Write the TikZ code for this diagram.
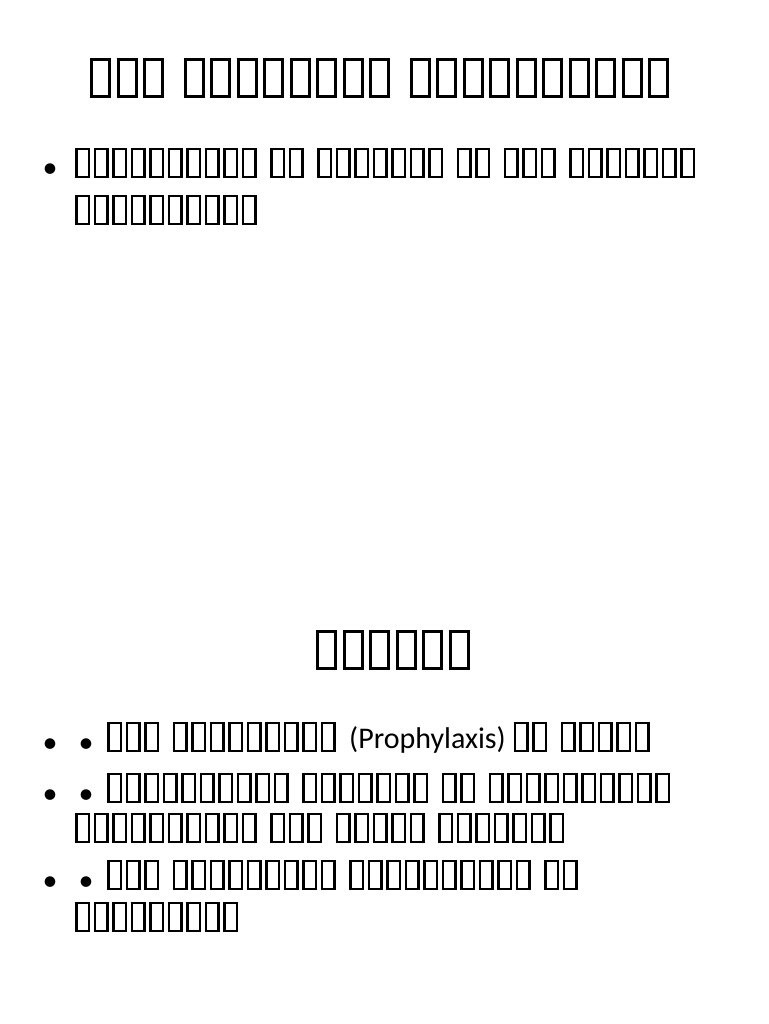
\documentclass[tikz,border=0pt]{standalone}
\usepackage{fontspec}
\setmainfont{Carlito}
\newlength\tfw \newlength\tfh \newlength\tfr \newlength\tfg
\newcommand\T{\hbox{\vrule width\tfr height\tfh\kern-\tfr\vbox to\tfh{\hrule width\dimexpr\tfw-\tfr\relax height\tfr\vfil\hrule height\tfr}\vrule width\tfr height\tfh}\kern\tfg}
\newcommand\Tn[1]{\foreach \i in {1,...,#1}{\T}}
\newcommand\SP{\hspace{\tfsp}}
\newlength\tfsp
\newcommand\bodybox{\setlength\tfw{15pt}\setlength\tfh{30pt}\setlength\tfr{2.4pt}\setlength\tfg{3.5pt}\setlength\tfsp{10pt}}
\newcommand\titlebox{\setlength\tfw{21pt}\setlength\tfh{40pt}\setlength\tfr{3pt}\setlength\tfg{5.5pt}\setlength\tfsp{14pt}}
\tikzset{ln/.style={anchor=base west,inner sep=0pt,font=\fontsize{30}{36}\selectfont},
 bul/.style={anchor=base,inner sep=0pt,font=\fontsize{30}{36}\selectfont}}
\begin{document}
\begin{tikzpicture}[x=1pt,y=-1pt]
\useasboundingbox[fill=white] (0,0) rectangle (768,1024);
\node[ln] (t) at (90,98) {\titlebox\Tn{3}\SP\Tn{8}\SP\Tn{10}};
\node[bul] (b1) at (50,178) {•};
\node[ln] (l1) at (75,178) {\bodybox\Tn{10}\SP\Tn{2}\SP\Tn{7}\SP\Tn{2}\SP\Tn{3}\SP\Tn{7}};
\node[ln] (l2) at (75,225) {\bodybox\Tn{10}};
\node[ln] (h) at (316,670) {\titlebox\Tn{6}};
\node[bul] (b2) at (50,752) {•};
\node[bul] (c2) at (86,752) {•};
\node[ln] (i1) at (107,752) {\bodybox\Tn{3}\SP\Tn{9}\SP\raisebox{4pt}{(Prophylaxis)}\hspace{8pt}\Tn{2}\SP\Tn{5}};
\node[bul] (b3) at (50,803) {•};
\node[bul] (c3) at (86,803) {•};
\node[ln] (i2) at (107,803) {\bodybox\Tn{10}\SP\Tn{7}\SP\Tn{2}\SP\Tn{10}};
\node[ln] (i2b) at (75,843) {\bodybox\Tn{10}\SP\Tn{3}\SP\Tn{5}\SP\Tn{7}};
\node[bul] (b4) at (50,890) {•};
\node[bul] (c4) at (86,890) {•};
\node[ln] (i3) at (107,890) {\bodybox\Tn{3}\SP\Tn{9}\SP\Tn{10}\SP\Tn{2}};
\node[ln] (i3b) at (75,932) {\bodybox\Tn{9}};
\end{tikzpicture}
\end{document}
